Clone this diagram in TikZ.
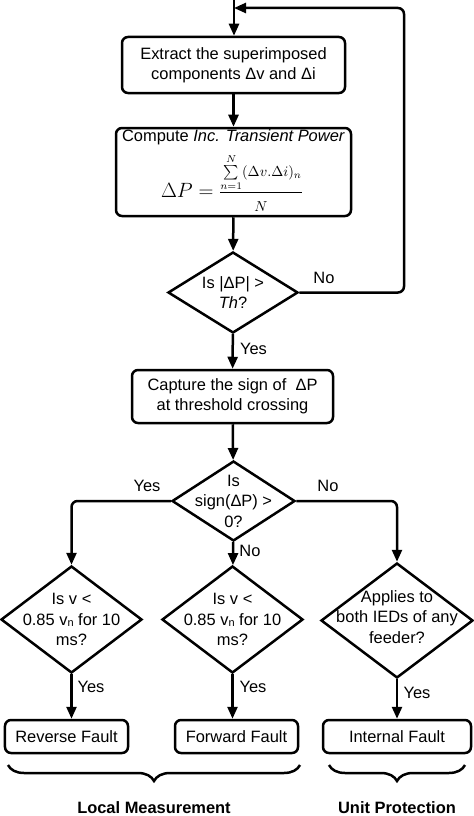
\documentclass[tikz,border=0pt]{standalone}
\usepackage{fontspec}
\setmainfont{Liberation Sans}
\usetikzlibrary{arrows.meta,shapes.geometric,decorations.pathreplacing}
\newcommand{\vsub}{\raisebox{-1.5bp}{\fontsize{11}{11}\selectfont n}}
\newcommand{\fnum}{\mbox{\fontsize{10}{12}\selectfont\scalebox{1.45}{$\sum\limits_{n=1}^{N}(\Delta v.\Delta i)_n$}}}
\newcommand{\fden}{\mbox{\fontsize{10}{12}\selectfont\scalebox{1.45}{$N$}}}
\begin{document}
\begin{tikzpicture}[x=1bp,y=-1bp,
  font=\fontsize{16.5}{20.5}\selectfont,
  line width=2.5bp,
  box/.style={draw, rounded corners=6bp, inner sep=0pt, align=center},
  dia/.style={draw, diamond, inner sep=0pt},
  txt/.style={align=center, inner sep=0pt},
  arr/.style={-{Triangle[length=12bp,width=10bp]}},
  lab/.style={inner sep=0pt},
  brc/.style={decorate, decoration={brace, mirror, amplitude=16bp}},
  grp/.style={inner sep=0pt, anchor=base, font=\fontsize{16.5}{20.5}\selectfont\bfseries}
]
\useasboundingbox (0,0) rectangle (474,816);

\node[box, minimum width=223bp, minimum height=56bp] (b1) at (233.5,65) {Extract the superimposed\\components Δv and Δi};
\node[box, minimum width=235bp, minimum height=88bp] (b2) at (233.5,172) {};
\node[txt] (b2a) at (233.5,137.5) {Compute \textit{Inc. Transient Power}};
\node[txt] (b2f) at (232,183) {\fontsize{20.74}{24}\selectfont$\displaystyle\Delta P = \frac{\fnum}{\fden}$};
\node[dia, minimum width=130bp, minimum height=81bp] (d1) at (233,292.5) {};
\node[txt] (d1t) at (d1) {Is |ΔP| >\\\textit{Th}?};
\node[box, minimum width=201bp, minimum height=53bp] (b3) at (232.5,396.5) {Capture the sign of \ ΔP\\at threshold crossing};
\node[dia, minimum width=123bp, minimum height=80bp] (d2) at (233.5,501) {};
\node[txt] (d2t) at (d2) {Is\\sign(ΔP) >\\0?};
\node[dia, minimum width=141bp, minimum height=107bp] (d3) at (71.5,619.5) {};
\node[txt] (d3t) at (d3) {Is v <\\0.85 v\vsub{} for 10\\ms?};
\node[dia, minimum width=141bp, minimum height=107bp] (d4) at (232.5,619.5) {};
\node[txt] (d4t) at (d4) {Is v <\\0.85 v\vsub{} for 10\\ms?};
\node[dia, minimum width=152bp, minimum height=115bp] (d5) at (397,620.5) {};
\node[txt] (d5t) at (397,617) {Applies to\\both IEDs of any\\feeder?};
\node[box, minimum width=123bp, minimum height=33bp] (r1) at (66.5,736.5) {Reverse Fault};
\node[box, minimum width=123bp, minimum height=33bp] (r2) at (236.5,736.5) {Forward Fault};
\node[box, minimum width=148bp, minimum height=33bp] (r3) at (397,736.5) {Internal Fault};

\coordinate (top) at (234,0);
\coordinate (fb) at (234,8);
\coordinate (fbc) at (404,8);
\draw[arr] (top) -- (top |- b1.north);
\draw[arr] (b1) -- (b2);
\draw[arr] (b2) -- (d1);
\draw[arr] (d1) -- (b3);
\draw[arr] (b3) -- (d2);
\draw[arr, rounded corners=6bp] (d1.east) -| (fbc) -- (fb);
\draw[arr, rounded corners=6bp] (d2.west) -| (d3.north);
\draw[arr, rounded corners=6bp] (d2.east) -| (d5.north);
\draw[arr] (d2) -- (d4);
\draw[arr] (d3.south) -- (d3.south |- r1.north);
\draw[arr] (d4.south) -- (d4.south |- r2.north);
\draw[arr] (d5) -- (r3);

\node[lab] (l1) at (324,278) {No};
\node[lab] (l2) at (253.5,349) {Yes};
\node[lab] (l3) at (147,486) {Yes};
\node[lab] (l4) at (328,486) {No};
\node[lab] (l5) at (250,551) {No};
\node[lab] (l6) at (91,687) {Yes};
\node[lab] (l7) at (253,687) {Yes};
\node[lab] (l8) at (417,693) {Yes};

\coordinate (bl1) at (8,765);
\coordinate (bl2) at (300,765);
\coordinate (br1) at (329,765);
\coordinate (br2) at (465,765);
\draw[brc] (bl1) -- (bl2);
\draw[brc] (br1) -- (br2);

\node[grp] (lm) at (154,813) {Local Measurement};
\node[grp] (up) at (397,813) {Unit Protection};
\end{tikzpicture}
\end{document}
